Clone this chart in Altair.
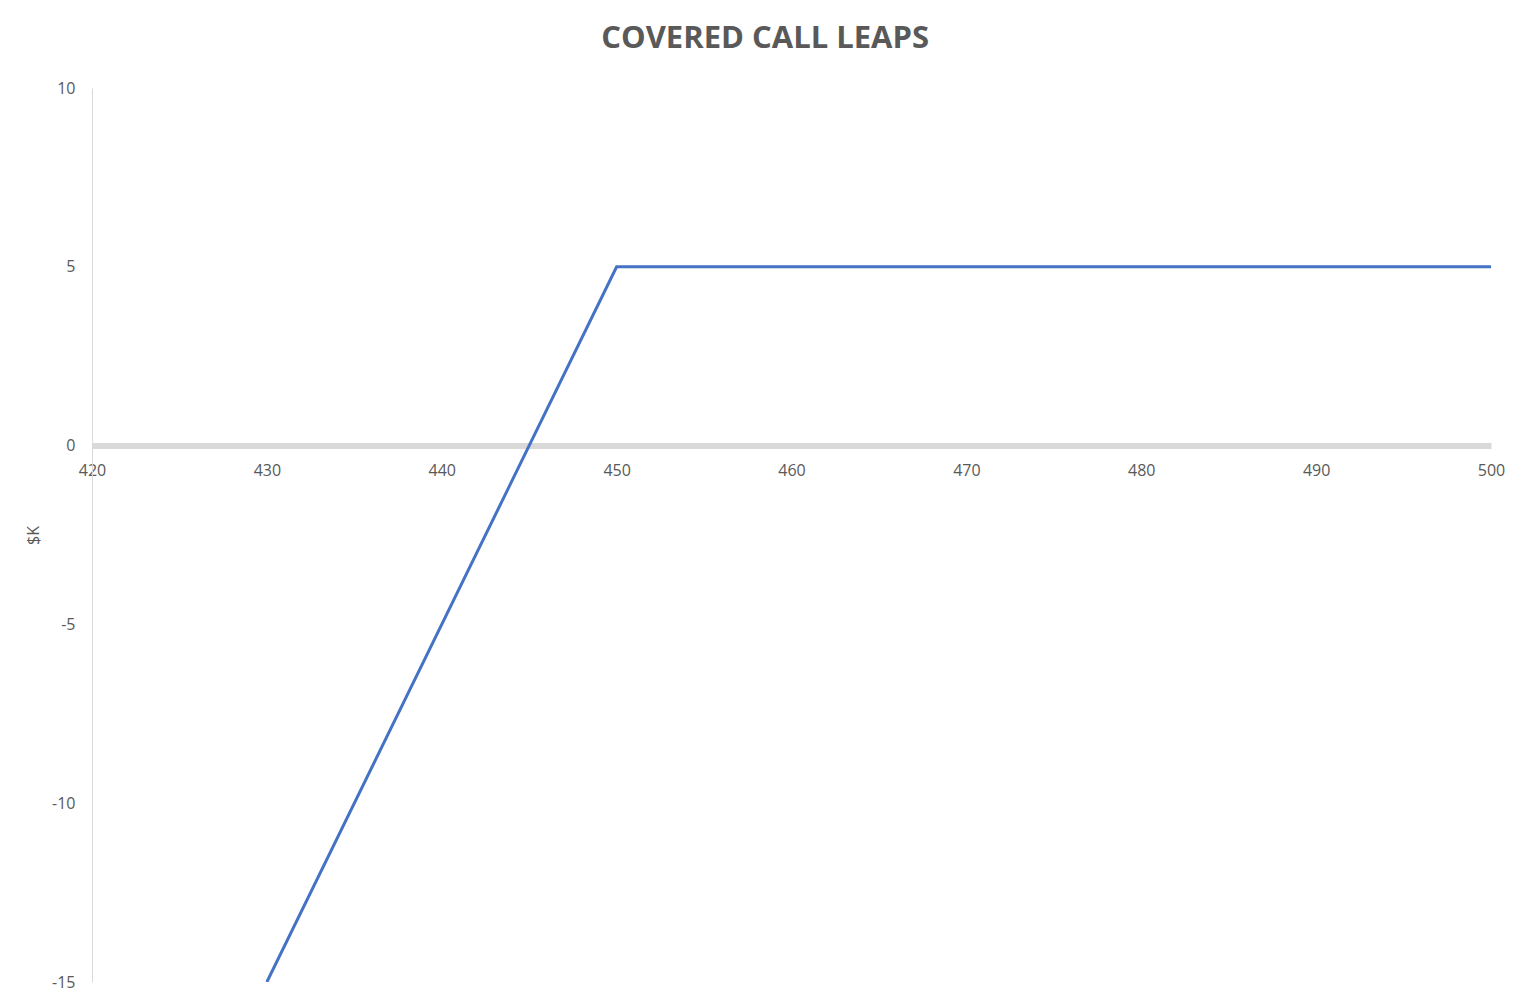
import altair as alt
import pandas as pd

price = [430, 450, 500]
pnl = [-15, 5, 5]
x_ticks = [420, 430, 440, 450, 460, 470, 480, 490, 500]
y_ticks = [-15, -10, -5, 0, 5, 10]
x_dom = [420, 500]
y_dom = [-15, 10]

W, H = 1399, 894
zero_offset = -H * (0 - y_dom[0]) / (y_dom[1] - y_dom[0])

df = pd.DataFrame({"price": price, "pnl": pnl})
GRAY = "#595959"

line = alt.Chart(df).mark_line(color="#4472C4", strokeWidth=3, clip=True).encode(
    x=alt.X("price:Q", scale=alt.Scale(domain=x_dom, nice=False, zero=False),
            axis=alt.Axis(values=x_ticks, title=None, ticks=False, grid=False,
                          domainColor="#d9d9d9", domainWidth=6, domainCap="butt",
                          offset=zero_offset, labelPadding=17, labelFlush=False,
                          labelColor=GRAY, labelFontSize=16, labelFont="Open Sans",
                          labelExpr="'' + datum.value")),
    y=alt.Y("pnl:Q", scale=alt.Scale(domain=y_dom, nice=False, zero=False),
            axis=alt.Axis(values=y_ticks, title="$K", ticks=False, grid=False,
                          domainColor="#d9d9d9", domainWidth=1,
                          labelPadding=17, labelColor=GRAY, labelFontSize=16,
                          labelFont="Open Sans", labelFlush=False,
                          labelExpr="'' + datum.value",
                          titleColor=GRAY, titleFontSize=16, titleFontWeight="normal",
                          titleFont="Open Sans", titlePadding=10)),
)

chart = line.properties(
    width=W, height=H,
    autosize=alt.AutoSizeParams(type="none"),
    padding={"left": 84, "top": 80, "right": 20, "bottom": 12},
    title=alt.TitleParams("COVERED CALL LEAPS", font="Open Sans", fontSize=31,
                          fontWeight="bold", color=GRAY, anchor="middle",
                          frame="bounds", offset=25),
).configure(background="white").configure_view(strokeWidth=0, stroke="transparent")

chart.save("out.html", embed_options={"renderer": "svg", "actions": False})
